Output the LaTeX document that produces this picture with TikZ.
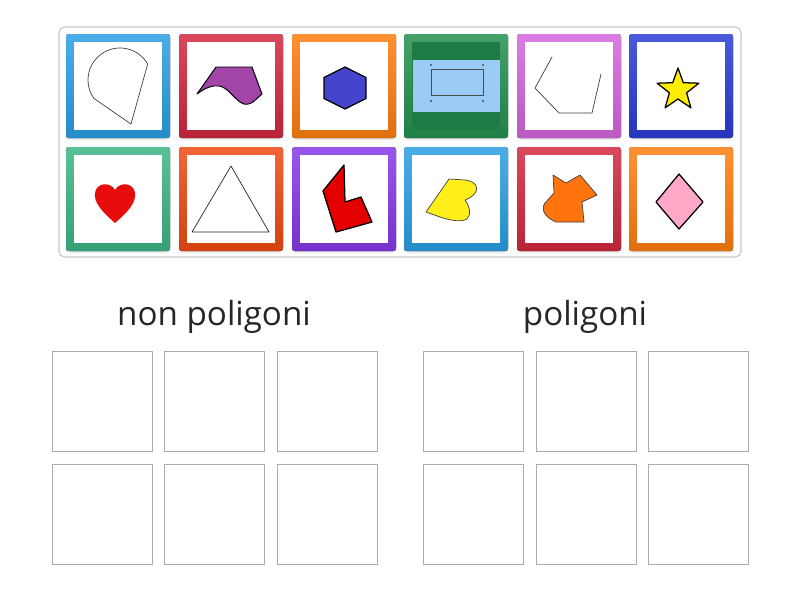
\documentclass[tikz,border=0pt]{standalone}
\usepackage{fontspec}
\setmainfont{Open Sans}
\usetikzlibrary{shadows}

\definecolor{sky}{HTML}{2A9FE4}
\definecolor{crimson}{HTML}{D2283F}
\definecolor{tangerine}{HTML}{FF7E10}
\definecolor{forest}{HTML}{23914F}
\definecolor{orchid}{HTML}{D466DC}
\definecolor{royal}{HTML}{2A3DD6}
\definecolor{jade}{HTML}{3DB585}
\definecolor{vermil}{HTML}{F04A12}
\definecolor{violet}{HTML}{8639E8}
\definecolor{plum}{HTML}{A244A8}
\definecolor{hexblue}{HTML}{4444CC}
\definecolor{paleblue}{HTML}{9CCBF7}
\definecolor{rosy}{HTML}{FFA8C8}

\begin{document}
\begin{tikzpicture}
[x=0.025cm, y=-0.025cm,
 tile/.style={rounded corners=2pt, draw=none, top color=#1!85!white, bottom color=#1!88!black, drop shadow={opacity=.15, shadow xshift=0pt, shadow yshift=-1.5pt}},
 slot/.style={draw=black!33, line width=0.7pt},
 heading/.style={font=\fontsize{23.6}{28}\selectfont, text=black!85, inner sep=0pt, anchor=base},
 edgeline/.style={draw=black, line width=0.9pt, line join=round},
 thinline/.style={draw=black!75, line width=0.5pt, line join=round}]

\useasboundingbox (0,0) rectangle (800,600);
\draw[black!22, line width=0.8pt, rounded corners=4pt] (59,27) rectangle (741,257);

% first row
\fill[tile=sky] (66,34) rectangle (170,138);
\fill[white] (74,42) rectangle (162,130);
\fill[tile=crimson] (179,34) rectangle (283,138);
\fill[white] (187,42) rectangle (275,130);
\fill[tile=tangerine] (292,34) rectangle (396,138);
\fill[white] (300,42) rectangle (388,130);
\fill[tile=forest] (404,34) rectangle (508,138);
\fill[forest!85!black] (412,42) rectangle (500,130);
\fill[tile=orchid] (517,34) rectangle (621,138);
\fill[white] (525,42) rectangle (613,130);
\fill[tile=royal] (629,34) rectangle (733,138);
\fill[white] (637,42) rectangle (725,130);

\draw[thinline] (147.7,64) arc[start angle=-30, end angle=-215, radius=32] -- (131,124) -- cycle;
\draw[edgeline, line width=0.7pt, fill=plum] (197,94) .. controls (205,88) and (212,85) .. (219,86) .. controls (227,87) and (233,97) .. (240,102) .. controls (245,106) and (250,104) .. (253,102) -- (262,94) -- (252,67) -- (216,67) -- cycle;
\draw[edgeline, fill=hexblue] (345,67) -- (366,77.5) -- (366,98.5) -- (345,109) -- (324,98.5) -- (324,77.5) -- cycle;
\fill[paleblue] (413,60) rectangle (500,112);
\draw[black!70, line width=0.4pt] (431,69) rectangle (483,95);
\foreach \px/\py in {431/65, 483/65, 431/101, 483/101}
  \fill[black!70] (\px,\py) circle[radius=1.2];
\draw[thinline] (552,57) -- (535,88) -- (559,113) -- (592,113) -- (601,74);
\draw[edgeline, fill=yellow!95!orange] (678,68) -- (683.3,82.7) -- (698.9,83.2) -- (686.6,92.8) -- (690.9,107.8) -- (678,99) -- (665.1,107.8) -- (669.4,92.8) -- (657.1,83.2) -- (672.7,82.7) -- cycle;

% second row
\fill[tile=jade] (66,147) rectangle (170,251);
\fill[white] (74,155) rectangle (162,243);
\fill[tile=vermil] (179,147) rectangle (283,251);
\fill[white] (187,155) rectangle (275,243);
\fill[tile=violet] (292,147) rectangle (396,251);
\fill[white] (300,155) rectangle (388,243);
\fill[tile=sky] (404,147) rectangle (508,251);
\fill[white] (412,155) rectangle (500,243);
\fill[tile=crimson] (517,147) rectangle (621,251);
\fill[white] (525,155) rectangle (613,243);
\fill[tile=tangerine] (629,147) rectangle (733,251);
\fill[white] (637,155) rectangle (725,243);

\fill[red!90!black!95] (115,223) .. controls (100,210) and (94,202) .. (95,193) .. controls (96,183) and (110,181) .. (115,190) .. controls (120,181) and (134,183) .. (135,193) .. controls (136,202) and (130,210) .. (115,223) -- cycle;
\draw[thinline, draw=black!85] (231,166) -- (192,232) -- (269,232) -- cycle;
\draw[edgeline, fill=red!90!black] (323,191) -- (344,165) -- (345,202) -- (361,197) -- (372,222) -- (336,232) -- cycle;
\draw[thinline, fill=yellow!95!orange!90] (426,212) -- (449,179) -- (465,180) .. controls (478,181) and (483,193) .. (465,200) .. controls (469,205) and (472,214) .. (467,219) .. controls (462,222) and (452,221) .. (440,217) -- cycle;
\draw[thinline, fill=orange!85!red!95] (553,175) -- (566,183) -- (580,175) -- (597,195) -- (582,202) -- (584,222) -- (556,222) .. controls (546,218) and (540,210) .. (545,203) -- (554,193) -- cycle;
\draw[edgeline, fill=rosy] (679,174) -- (703,202) -- (679,229) -- (656,202) -- cycle;

% groups
\node[heading] (nonpol) at (214,325) {non poligoni};
\node[heading] (pol) at (585,325) {poligoni};

\draw[slot] (52,351) rectangle (152,451);
\draw[slot] (164,351) rectangle (264,451);
\draw[slot] (277,351) rectangle (377,451);
\draw[slot] (52,464) rectangle (152,564);
\draw[slot] (164,464) rectangle (264,564);
\draw[slot] (277,464) rectangle (377,564);

\draw[slot] (423,351) rectangle (523,451);
\draw[slot] (536,351) rectangle (636,451);
\draw[slot] (648,351) rectangle (748,451);
\draw[slot] (423,464) rectangle (523,564);
\draw[slot] (536,464) rectangle (636,564);
\draw[slot] (648,464) rectangle (748,564);

\end{tikzpicture}
\end{document}
